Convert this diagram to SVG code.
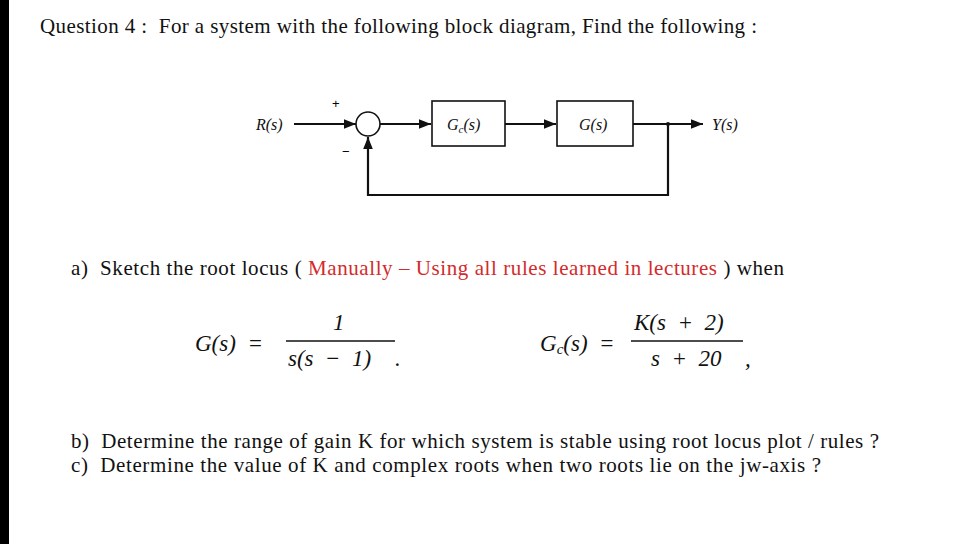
<svg xmlns="http://www.w3.org/2000/svg" width="959" height="544" viewBox="0 0 959 544" xml:space="preserve">
<defs>
<marker id="ah" viewBox="0 0 10 10" refX="10" refY="5" markerWidth="12" markerHeight="12" markerUnits="userSpaceOnUse" orient="auto"><path d="M0,1 L10,5 L0,9 z" fill="#111"/></marker>
<style>
text{white-space:pre}
.t{font-family:"Liberation Serif",serif;font-size:21px;fill:#111}
.d{font-family:"Liberation Serif",serif;font-style:italic;font-size:16px;fill:#111}
.m{font-family:"Liberation Serif",serif;font-style:italic;font-size:23px;fill:#111}
.w{fill:none;stroke:#111;stroke-width:2.2}
.b{fill:#fff;stroke:#111;stroke-width:1.6}
</style>
</defs>
<rect width="959" height="544" fill="#fff"/>
<rect x="0" y="0" width="9" height="544" fill="#000"/>
<text class="t" x="40" y="33" textLength="717" lengthAdjust="spacing">Question 4 :  For a system with the following block diagram, Find the following :</text>
<g id="connectors">
<line class="w" x1="294" y1="124" x2="356" y2="124" marker-end="url(#ah)"/>
<line class="w" x1="380" y1="124" x2="431" y2="124" marker-end="url(#ah)"/>
<line class="w" x1="505" y1="124" x2="556" y2="124" marker-end="url(#ah)"/>
<line class="w" x1="633" y1="124" x2="703" y2="124" marker-end="url(#ah)"/>
<polyline class="w" points="668,124 668,195 368,195 368,137" marker-end="url(#ah)"/>
<circle cx="668" cy="124" r="2" fill="#111"/>
</g>
<g id="input"><text class="d" x="256" y="130">R(s)</text></g>
<g id="sum"><circle class="b" cx="368" cy="124" r="12"/>
<text x="332" y="108" style="font-family:'Liberation Sans',sans-serif;font-size:13px">+</text>
<text x="342" y="156" style="font-family:'Liberation Sans',sans-serif;font-size:13px">−</text></g>
<g id="Gc"><rect class="b" x="432" y="101" width="73" height="45"/><text class="d" x="447" y="130">G<tspan font-size="11" dy="3">c</tspan><tspan dy="-3">(s)</tspan></text></g>
<g id="G"><rect class="b" x="557" y="101" width="76" height="45"/><text class="d" x="579" y="130">G(s)</text></g>
<g id="output"><text class="d" x="712" y="130">Y(s)</text></g>
<text class="t" x="71" y="275" textLength="713" lengthAdjust="spacing">a)  Sketch the root locus ( <tspan fill="#d42a2a">Manually – Using all rules learned in lectures</tspan> ) when</text>
<text class="m" x="195" y="351">G(s)  =</text>
<line x1="286" y1="341" x2="395" y2="341" stroke="#111" stroke-width="1.4"/>
<text class="m" x="333" y="330" font-style="normal">1</text>
<text class="m" x="288" y="366">s(s  −  1)</text>
<text class="m" x="395" y="366">.</text>
<text class="m" x="540" y="351">G<tspan font-size="15" dy="3">c</tspan><tspan dy="-3">(s)  =</tspan></text>
<line x1="631" y1="341" x2="743" y2="341" stroke="#111" stroke-width="1.4"/>
<text class="m" x="634" y="330">K(s  +  2)</text>
<text class="m" x="651" y="366">s  +  20</text>
<text class="m" x="745" y="366">,</text>
<text class="t" x="71" y="448" textLength="808" lengthAdjust="spacing">b)  Determine the range of gain K for which system is stable using root locus plot / rules ?</text>
<text class="t" x="71" y="472" textLength="750" lengthAdjust="spacing">c)  Determine the value of K and complex roots when two roots lie on the jw-axis ?</text>
</svg>
